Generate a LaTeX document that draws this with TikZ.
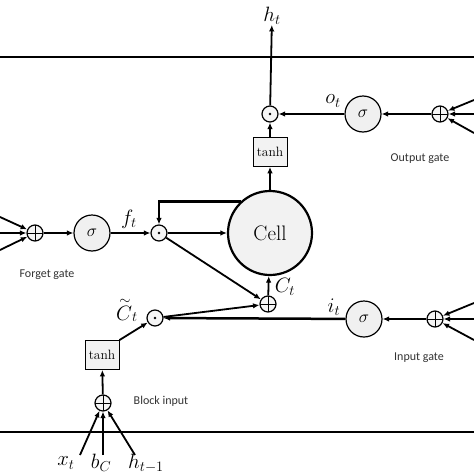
\documentclass[tikz,border=0pt]{standalone}
\usepackage{fontspec}
\newfontfamily\gatefont{Carlito}
\usetikzlibrary{arrows.meta,calc}
\begin{document}
\begin{tikzpicture}[x=1pt,y=-1pt,
  arr/.style={line width=1.8pt,-{Latex[length=6.5pt,width=5.5pt]}},
  rail/.style={line width=2.8pt},
  opnode/.style={circle,draw,line width=1.2pt,fill=gray!8,minimum size=16pt,inner sep=0pt},
  dotop/.style={opnode},
  plusop/.style={opnode,path picture={\draw[line width=0.9pt] (path picture bounding box.north) -- (path picture bounding box.south) (path picture bounding box.west) -- (path picture bounding box.east);}},
  sig/.style={circle,draw,line width=1.2pt,fill=gray!12,minimum size=36pt,inner sep=0pt,font=\fontsize{19}{19}\selectfont},
  cellnode/.style={circle,draw,line width=2.2pt,fill=gray!10,minimum size=84pt,inner sep=0pt,font=\fontsize{21}{21}\selectfont},
  tanhbox/.style={rectangle,draw,line width=0.8pt,fill=gray!10,minimum width=34pt,minimum height=29pt,inner sep=0pt,font=\fontsize{13.5}{13.5}\selectfont},
  lbl/.style={inner sep=0pt,font=\fontsize{20}{20}\selectfont},
  gatelbl/.style={inner sep=0pt,font=\gatefont\fontsize{12}{12}\selectfont,text=black!80}
]
\fill[white] (0,0) rectangle (474,474);
\useasboundingbox (0,0) rectangle (474,474);
% rails
\draw[rail] (0,57) -- (474,57);
\draw[rail] (0,432) -- (474,432);
% nodes
\node[lbl] (ht) at (272,16) {$h_t$};
\node[dotop] (od) at (270,114) {};
\node[tanhbox] (tO) at (270,152) {tanh};
\node[cellnode] (cell) at (270,233) {Cell};
\node[sig] (sO) at (363,114) {$\sigma$};
\node[plusop] (pO) at (440,114) {};
\node[plusop] (pF) at (35,233) {};
\node[sig] (sF) at (92,233) {$\sigma$};
\node[dotop] (dF) at (159,233) {};
\node[plusop] (pC) at (268,304) {};
\node[dotop] (dI) at (155,318) {};
\node[sig] (sI) at (364,319) {$\sigma$};
\node[plusop] (pI) at (435,319) {};
\node[tanhbox] (tI) at (102,355) {tanh};
\node[plusop] (pB) at (103,403) {};
\foreach \d in {od,dF,dI} \fill (\d) circle (1.4pt);
% labels
\node[lbl] (lo) at (333,101) {$o_t$};
\node[lbl] (lf) at (129,219) {$f_t$};
\node[lbl] (lC) at (285,287) {$C_t$};
\node[lbl] (li) at (334,307) {$i_t$};
\node[lbl] (lCt) at (127,310) {$\stackrel{\sim}{C}_t$};
\node[lbl] (lx) at (66,463) {$x_t$};
\node[lbl] (lb) at (101,463) {$b_C$};
\node[lbl] (lh) at (146,463) {$h_{t-1}$};
\node[gatelbl] (gF) at (47,275) {Forget gate};
\node[gatelbl] (gO) at (420,159) {Output gate};
\node[gatelbl] (gI) at (419,358) {Input gate};
\node[gatelbl] (gB) at (161,401) {Block input};
% input coordinates
\coordinate (fa) at (0,217);
\coordinate (fb) at (0,233);
\coordinate (fc) at (0,250);
\coordinate (oa) at (474,100);
\coordinate (ob) at (474,114);
\coordinate (oc) at (474,133);
\coordinate (ia) at (474,303);
\coordinate (ib) at (474,319);
\coordinate (ic) at (474,340);
\coordinate (xa) at (80,455);
\coordinate (xb) at (103,455);
\coordinate (xc) at (135,455);
% connectors
\draw[arr] (od) -- (ht);
\draw[arr] (tO) -- (od);
\draw[arr,line width=2.4pt] (cell) -- (tO);
\draw[arr,line width=2pt] (sO) -- (od);
\draw[arr,line width=2pt] (pO) -- (sO);
\foreach \c in {oa,ob,oc} \draw[arr] (\c) -- (pO);
\foreach \c in {fa,fb,fc} \draw[arr] (\c) -- (pF);
\draw[arr] (pF) -- (sF);
\draw[arr] (sF) -- (dF);
\draw[arr] (dF) -- (cell);
\draw[arr,line width=2.2pt] (cell.133) -| (dF.north);
\draw[arr] (dF) -- (pC);
\draw[arr] (pC) -- (cell);
\draw[arr] (dI) -- (pC);
\draw[arr,line width=2.5pt] (sI) -- (dI);
\draw[arr,line width=2pt] (pI) -- (sI);
\foreach \c in {ia,ib,ic} \draw[arr] (\c) -- (pI);
\draw[arr] (tI.north east) -- (dI);
\draw[arr] (pB) -- (tI);
\foreach \c in {xa,xb,xc} \draw[arr] (\c) -- (pB);
\end{tikzpicture}
\end{document}
